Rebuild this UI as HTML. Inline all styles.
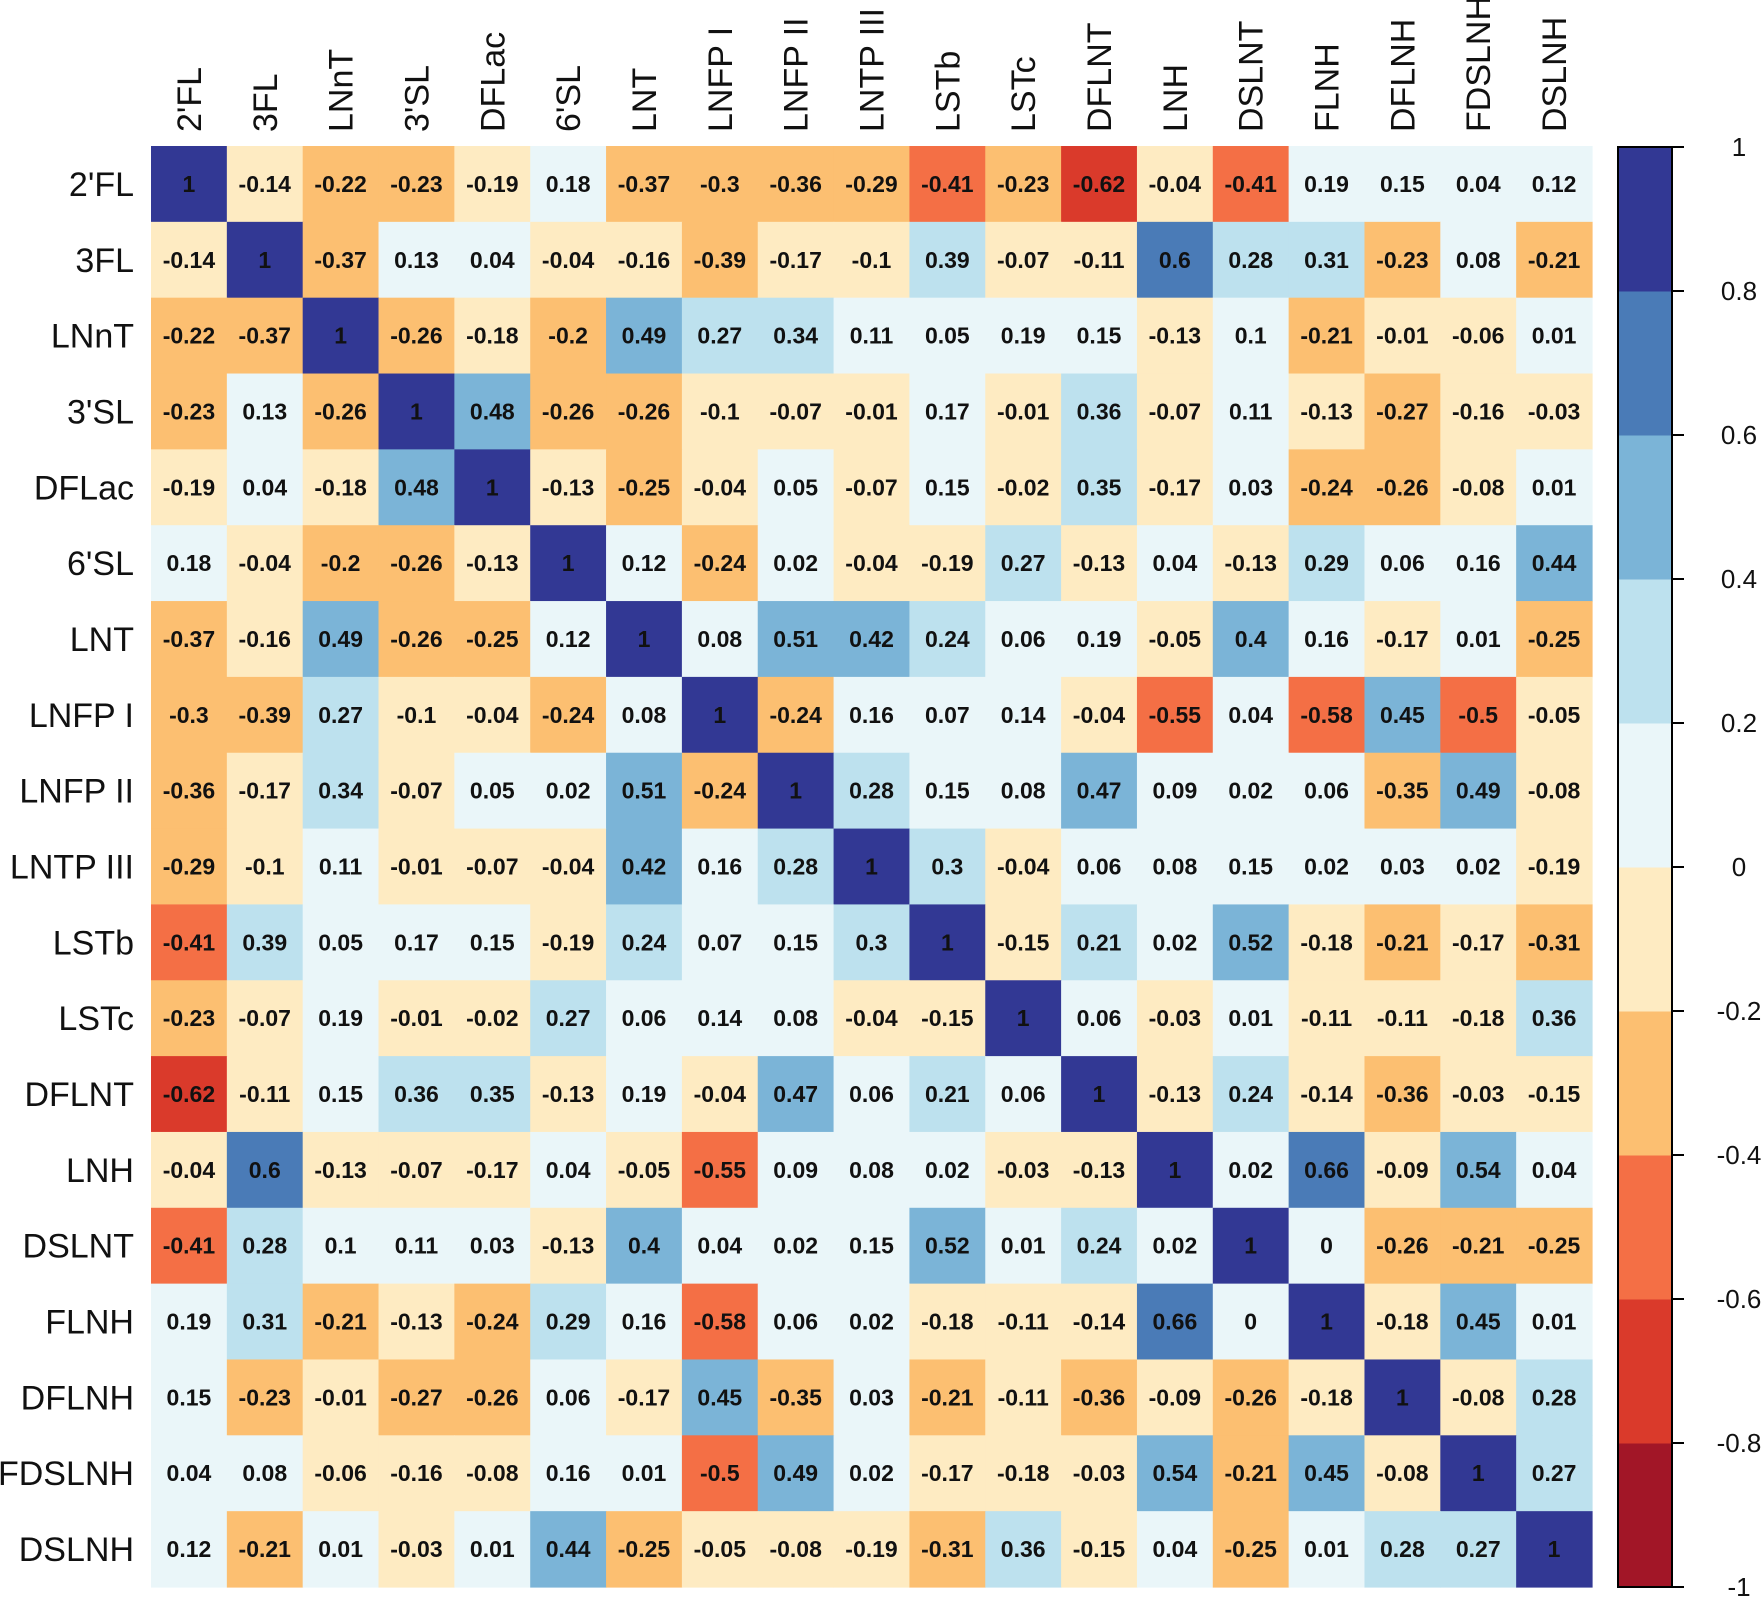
<!DOCTYPE html>
<html>
<head>
<meta charset="utf-8">
<style>
  html, body { margin: 0; padding: 0; background: #ffffff; }
  svg { display: block; font-family: "Liberation Sans", Arial, sans-serif; }
</style>
</head>
<body>
<svg id="chart" width="1762" height="1599" viewBox="0 0 1762 1599" xmlns="http://www.w3.org/2000/svg">
  <rect x="0" y="0" width="1762" height="1599" fill="#ffffff"></rect>
  <g id="cells"></g>
  <g id="values"></g>
  <g id="rowLabels"></g>
  <g id="colLabels"></g>
  <g id="colorbar"></g>
</svg>
<script>
const labels = ["2'FL","3FL","LNnT","3'SL","DFLac","6'SL","LNT","LNFP I","LNFP II","LNTP III","LSTb","LSTc","DFLNT","LNH","DSLNT","FLNH","DFLNH","FDSLNH","DSLNH"];
const row0  = [1,-0.14,-0.22,-0.23,-0.19,0.18,-0.37,-0.3,-0.36,-0.29,-0.41,-0.23,-0.62,-0.04,-0.41,0.19,0.15,0.04,0.12];
const row1  = [-0.14,1,-0.37,0.13,0.04,-0.04,-0.16,-0.39,-0.17,-0.1,0.39,-0.07,-0.11,0.6,0.28,0.31,-0.23,0.08,-0.21];
const row2  = [-0.22,-0.37,1,-0.26,-0.18,-0.2,0.49,0.27,0.34,0.11,0.05,0.19,0.15,-0.13,0.1,-0.21,-0.01,-0.06,0.01];
const row3  = [-0.23,0.13,-0.26,1,0.48,-0.26,-0.26,-0.1,-0.07,-0.01,0.17,-0.01,0.36,-0.07,0.11,-0.13,-0.27,-0.16,-0.03];
const row4  = [-0.19,0.04,-0.18,0.48,1,-0.13,-0.25,-0.04,0.05,-0.07,0.15,-0.02,0.35,-0.17,0.03,-0.24,-0.26,-0.08,0.01];
const row5  = [0.18,-0.04,-0.2,-0.26,-0.13,1,0.12,-0.24,0.02,-0.04,-0.19,0.27,-0.13,0.04,-0.13,0.29,0.06,0.16,0.44];
const row6  = [-0.37,-0.16,0.49,-0.26,-0.25,0.12,1,0.08,0.51,0.42,0.24,0.06,0.19,-0.05,0.4,0.16,-0.17,0.01,-0.25];
const row7  = [-0.3,-0.39,0.27,-0.1,-0.04,-0.24,0.08,1,-0.24,0.16,0.07,0.14,-0.04,-0.55,0.04,-0.58,0.45,-0.5,-0.05];
const row8  = [-0.36,-0.17,0.34,-0.07,0.05,0.02,0.51,-0.24,1,0.28,0.15,0.08,0.47,0.09,0.02,0.06,-0.35,0.49,-0.08];
const row9  = [-0.29,-0.1,0.11,-0.01,-0.07,-0.04,0.42,0.16,0.28,1,0.3,-0.04,0.06,0.08,0.15,0.02,0.03,0.02,-0.19];
const row10 = [-0.41,0.39,0.05,0.17,0.15,-0.19,0.24,0.07,0.15,0.3,1,-0.15,0.21,0.02,0.52,-0.18,-0.21,-0.17,-0.31];
const row11 = [-0.23,-0.07,0.19,-0.01,-0.02,0.27,0.06,0.14,0.08,-0.04,-0.15,1,0.06,-0.03,0.01,-0.11,-0.11,-0.18,0.36];
const row12 = [-0.62,-0.11,0.15,0.36,0.35,-0.13,0.19,-0.04,0.47,0.06,0.21,0.06,1,-0.13,0.24,-0.14,-0.36,-0.03,-0.15];
const row13 = [-0.04,0.6,-0.13,-0.07,-0.17,0.04,-0.05,-0.55,0.09,0.08,0.02,-0.03,-0.13,1,0.02,0.66,-0.09,0.54,0.04];
const row14 = [-0.41,0.28,0.1,0.11,0.03,-0.13,0.4,0.04,0.02,0.15,0.52,0.01,0.24,0.02,1,0,-0.26,-0.21,-0.25];
const row15 = [0.19,0.31,-0.21,-0.13,-0.24,0.29,0.16,-0.58,0.06,0.02,-0.18,-0.11,-0.14,0.66,0,1,-0.18,0.45,0.01];
const row16 = [0.15,-0.23,-0.01,-0.27,-0.26,0.06,-0.17,0.45,-0.35,0.03,-0.21,-0.11,-0.36,-0.09,-0.26,-0.18,1,-0.08,0.28];
const row17 = [0.04,0.08,-0.06,-0.16,-0.08,0.16,0.01,-0.5,0.49,0.02,-0.17,-0.18,-0.03,0.54,-0.21,0.45,-0.08,1,0.27];
const row18 = [0.12,-0.21,0.01,-0.03,0.01,0.44,-0.25,-0.05,-0.08,-0.19,-0.31,0.36,-0.15,0.04,-0.25,0.01,0.28,0.27,1];
const matrix = [row0,row1,row2,row3,row4,row5,row6,row7,row8,row9,row10,row11,row12,row13,row14,row15,row16,row17,row18];
const colorTicks = [1,0.8,0.6,0.4,0.2,0,-0.2,-0.4,-0.6,-0.8,-1];
const tickLabels = ["1","0.8","0.6","0.4","0.2","0","-0.2","-0.4","-0.6","-0.8","-1"];
const binColors = ["#a21627","#da3a2b","#f46f45","#fcbf71","#feebc2","#eaf6f9","#bde1ee","#7bb4d7","#4a7bb7","#323894"];

const NS = "http://www.w3.org/2000/svg";
const X0 = 151, Y0 = 146, SIZE = 1441;
const n = labels.length;
const cell = SIZE / n;
function xPos(i) { return X0 + i * cell; }
function yPos(i) { return Y0 + i * cell; }
const CB_X = 1618, CB_W = 54, CB_TOP = 147, CB_BOT = 1587;
function cbY(v) { return CB_TOP + (1 - v) / 2 * (CB_BOT - CB_TOP); }
function binIndex(v) {
  const t = (v + 1) / 0.2;
  let b = v < 0 ? Math.ceil(t - 1e-9) - 1 : Math.floor(t + 1e-9);
  return Math.max(0, Math.min(9, b));
}
function mk(tag, attrs) {
  const e = document.createElementNS(NS, tag);
  for (const k in attrs) e.setAttribute(k, attrs[k]);
  return e;
}
const gCells = document.getElementById('cells');
const gVals = document.getElementById('values');
for (let r = 0; r < n; r++) {
  for (let c = 0; c < n; c++) {
    const v = matrix[r][c];
    const rect = mk('rect', {x: xPos(c), y: yPos(r), width: cell + 0.6, height: cell + 0.6, fill: binColors[binIndex(v)]});
    
    
    gCells.appendChild(rect);
    const t = mk('text', {x: xPos(c) + cell / 2, y: yPos(r) + cell / 2 + 8, 'text-anchor': 'middle', 'font-size': 23, 'font-weight': 'bold', fill: '#111'});
    t.textContent = String(v);
    
    
    gVals.appendChild(t);
  }
}
const gRow = document.getElementById('rowLabels');
const gCol = document.getElementById('colLabels');
for (let i = 0; i < n; i++) {
  const t = mk('text', {x: 134, y: yPos(i) + cell / 2 + 12, 'text-anchor': 'end', 'font-size': 34, fill: '#111'});
  t.textContent = labels[i];
  
  
  gRow.appendChild(t);
  const cx = xPos(i) + cell / 2 + 12;
  const ct = mk('text', {x: cx, y: 132, 'text-anchor': 'start', 'font-size': 34, fill: '#111', transform: 'rotate(-90 ' + cx + ' 132)'});
  ct.textContent = labels[i];
  
  
  gCol.appendChild(ct);
}
const gCb = document.getElementById('colorbar');
for (let b = 0; b < binColors.length; b++) {
  const lo = -1 + b * 0.2, hi = lo + 0.2;
  const rect = mk('rect', {x: CB_X, y: cbY(hi), width: CB_W, height: cbY(lo) - cbY(hi) + 0.5, fill: binColors[b]});
  
  
  gCb.appendChild(rect);
}
const border = mk('rect', {x: CB_X, y: CB_TOP, width: CB_W, height: CB_BOT - CB_TOP, fill: 'none', stroke: '#000', 'stroke-width': 2});


gCb.appendChild(border);
for (let i = 0; i < colorTicks.length; i++) {
  const y = cbY(colorTicks[i]);
  const ln = mk('line', {x1: CB_X + CB_W, x2: CB_X + CB_W + 12, y1: y, y2: y, stroke: '#000', 'stroke-width': 2});
  
  
  gCb.appendChild(ln);
  const t = mk('text', {x: 1739, y: y + 9, 'text-anchor': 'middle', 'font-size': 26, fill: '#111'});
  t.textContent = tickLabels[i];
  
  
  gCb.appendChild(t);
}
</script>
</body>
</html>
